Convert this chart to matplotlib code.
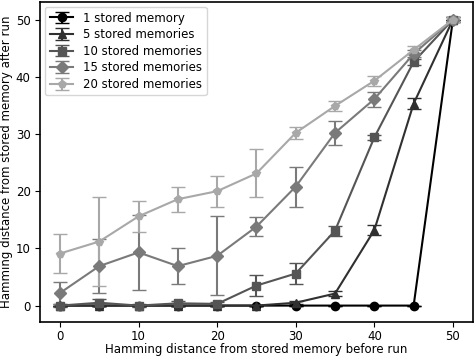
import numpy as np
import matplotlib
matplotlib.use("Agg")
import matplotlib.pyplot as plt

# Hamming distance before run
x_before = [0, 5, 10, 15, 20, 25, 30, 35, 40, 45, 50]

labels = ["1 stored memory", "5 stored memories", "10 stored memories",
          "15 stored memories", "20 stored memories"]

# mean distance after run
mean_1 = [0, 0, 0, 0, 0, 0, 0, 0, 0, 0, 50]
mean_5 = [0, 0, 0, 0, 0, 0, 0.5, 2.1, 13.2, 35.3, 50]
mean_10 = [0, 0.5, 0, 0.4, 0.3, 3.5, 5.6, 13.1, 29.4, 42.6, 50]
mean_15 = [2.2, 6.9, 9.3, 6.9, 8.7, 13.8, 20.8, 30.2, 36.1, 44.0, 50]
mean_20 = [9.1, 11.2, 15.6, 18.6, 20.0, 23.1, 30.2, 34.9, 39.3, 44.7, 50]

# error bar half-widths
err_1 = [0, 0, 0, 0, 0, 0, 0, 0, 0, 0, 0]
err_5 = [0, 0, 0, 0, 0, 0, 0.3, 0.4, 0.9, 0.9, 0.5]
err_10 = [0.3, 0.6, 0.3, 0.4, 0.3, 1.9, 1.8, 0.9, 0.5, 0.5, 0.5]
err_15 = [1.9, 4.7, 6.5, 3.2, 6.9, 1.7, 3.5, 2.1, 1.3, 0.6, 0.5]
err_20 = [3.4, 7.8, 2.7, 2.2, 2.7, 4.2, 1.1, 0.9, 0.9, 0.6, 0.5]

means = [mean_1, mean_5, mean_10, mean_15, mean_20]
errs = [err_1, err_5, err_10, err_15, err_20]
colors = ["#000000", "#303030", "#555555", "#7a7a7a", "#a8a8a8"]
markers = ["o", "^", "s", "D", "p"]

fs = 8.5
fig = plt.figure(figsize=(4.74, 3.6), dpi=100)
ax = fig.add_subplot(111)
fig.subplots_adjust(left=0.085, right=0.997, top=0.994, bottom=0.106)

for m, e, c, mk, lab in zip(means, errs, colors, markers, labels):
    ax.errorbar(x_before, m, yerr=e, color=c, marker=mk, markersize=6,
                linewidth=1.5, capsize=5, elinewidth=1.5, label=lab)

ax.set_xticks([0, 10, 20, 30, 40, 50])
ax.set_yticks([0, 10, 20, 30, 40, 50])
ax.set_xlabel("Hamming distance from stored memory before run", fontsize=fs, labelpad=0)
ax.set_ylabel("Hamming distance from stored memory after run", fontsize=fs, labelpad=2)
ax.tick_params(labelsize=fs)
ax.tick_params(axis="x", pad=2.5)
for s in ax.spines.values():
    s.set_linewidth(1.2)
ax.legend(loc="upper left", fontsize=fs, handlelength=2.0,
          borderaxespad=0.4, labelspacing=0.3)

fig.savefig("out.png", dpi=100)
